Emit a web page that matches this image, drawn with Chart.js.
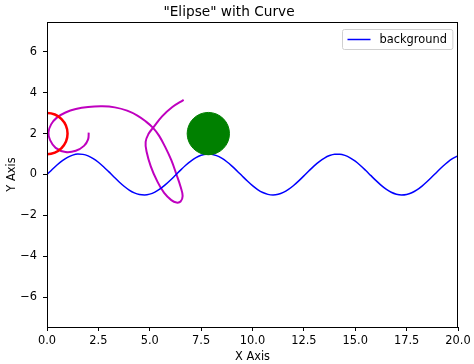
<!DOCTYPE html>
<html><head><meta charset="utf-8">
<script src="https://cdn.jsdelivr.net/npm/chart.js@4/dist/chart.umd.min.js"></script>
<style>html,body{margin:0;padding:0;background:#fff}#wrap{width:474px;height:364px}</style>
</head><body><div id="wrap"><canvas id="c" width="474" height="364"></canvas></div>
<script>
const titleText = '"Elipse" with Curve';
const xAxisTitle = 'X Axis';
const yAxisTitle = 'Y Axis';
const legendLabel = 'background';

const sineX = [0,0.25,0.5,0.75,1,1.25,1.5,1.75,2,2.25,2.5,2.75,3,3.25,3.5,3.75,4,4.25,4.5,4.75,5,5.25,5.5,5.75,6,6.25,6.5,6.75,7,7.25,7.5,7.75,8,8.25,8.5,8.75,9,9.25,9.5,9.75,10,10.25,10.5,10.75,11,11.25,11.5,11.75,12,12.25,12.5,12.75,13,13.25,13.5,13.75,14,14.25,14.5,14.75,15,15.25,15.5,15.75,16,16.25,16.5,16.75,17,17.25,17.5,17.75,18,18.25,18.5,18.75,19,19.25,19.5,19.75,20];
const sineY = [0,0.247,0.479,0.682,0.841,0.949,0.997,0.984,0.909,0.778,0.598,0.382,0.141,-0.108,-0.351,-0.572,-0.757,-0.895,-0.978,-0.999,-0.959,-0.859,-0.706,-0.508,-0.279,-0.033,0.215,0.450,0.657,0.823,0.938,0.995,0.989,0.922,0.798,0.625,0.412,0.174,-0.075,-0.319,-0.544,-0.735,-0.880,-0.970,-1.000,-0.968,-0.875,-0.729,-0.537,-0.311,-0.066,0.183,0.420,0.632,0.804,0.926,0.991,0.994,0.935,0.818,0.650,0.442,0.206,-0.042,-0.288,-0.516,-0.712,-0.864,-0.961,-1.000,-0.976,-0.891,-0.751,-0.564,-0.343,-0.099,0.150,0.390,0.606,0.784,0.913];

const curveX = [2.03,2.0,1.8,1.4,0.9,0.42,0.15,0.07,0.2,0.48,0.9,1.4,2.0,2.7,3.3,3.9,4.4,4.8,5.16,5.45,5.75,6.05,6.3,6.5,6.6,6.5,6.3,6.05,5.7,5.35,5.05,4.85,4.8,4.95,5.16,5.6,6.1,6.65];
const curveY = [2.05,1.72,1.4,1.16,1.1,1.3,1.68,2.05,2.45,2.78,3.03,3.2,3.3,3.33,3.28,3.12,2.88,2.6,2.28,1.9,1.35,0.7,0.0,-0.6,-1.05,-1.32,-1.37,-1.25,-0.9,-0.3,0.4,1.1,1.6,2.0,2.28,2.84,3.3,3.65];

const circleX = [0, 7.85];
const circleY = [2, 2];
const circleR = [1, 1.03];
const circleColors = ['#ff0000', '#008000'];
const circleFilled = [false, true];

const xTicks = [0,2.5,5,7.5,10,12.5,15,17.5,20];
const yTicks = [-6,-4,-2,0,2,4,6];

const FONT = '"DejaVu Sans", sans-serif';
const TICK_SIZE = 11.4;
Chart.defaults.color = '#000';
Chart.defaults.font.family = FONT;

// Circles drawn through the chart's x/y scales, right after the background line
const circlePlugin = {
  id: 'circles',
  afterDatasetDraw(chart, args) {
    if (args.index !== 0) return;
    const {ctx, chartArea: a, scales: {x, y}} = chart;
    ctx.save();
    ctx.beginPath();
    ctx.rect(a.left, a.top, a.right - a.left, a.bottom - a.top);
    ctx.clip();
    for (let i = 0; i < circleX.length; i++) {
      const cx = x.getPixelForValue(circleX[i]);
      const cy = y.getPixelForValue(circleY[i]);
      const r = Math.abs(x.getPixelForValue(circleR[i]) - x.getPixelForValue(0));
      ctx.beginPath();
      ctx.arc(cx, cy, r, 0, Math.PI * 2);
      if (circleFilled[i]) {
        ctx.fillStyle = circleColors[i];
        ctx.fill();
        ctx.lineWidth = 1;
        ctx.strokeStyle = circleColors[i];
        ctx.stroke();
      } else {
        ctx.lineWidth = 2.5;
        ctx.strokeStyle = circleColors[i];
        ctx.stroke();
      }
    }
    ctx.restore();
  }
};

const framePlugin = {
  id: 'frame',
  afterDatasetsDraw(chart) {
    const {ctx, chartArea: a} = chart;
    ctx.save();
    ctx.strokeStyle = '#000';
    ctx.lineWidth = 1;
    ctx.strokeRect(Math.round(a.left) + 0.5, Math.round(a.top) + 0.5, Math.round(a.right - a.left) - 1, Math.round(a.bottom - a.top));
    ctx.restore();
  }
};

const legendPlugin = {
  id: 'mplLegend',
  afterDraw(chart) {
    const {ctx, chartArea: a} = chart;
    ctx.save();
    ctx.font = TICK_SIZE + 'px ' + FONT;
    const tw = ctx.measureText(legendLabel).width;
    const w = 5 + 23 + 9 + tw + 6, h = 20;
    const x1 = Math.round(a.right - 6 - w) + 0.5, y1 = Math.round(a.top + 7) + 0.5;
    ctx.beginPath();
    ctx.roundRect(x1, y1, w, h, 2);
    ctx.fillStyle = 'rgba(255,255,255,0.8)';
    ctx.fill();
    ctx.strokeStyle = '#d0d0d0';
    ctx.lineWidth = 1;
    ctx.stroke();
    ctx.beginPath();
    ctx.moveTo(x1 + 5, y1 + h / 2);
    ctx.lineTo(x1 + 28, y1 + h / 2);
    ctx.strokeStyle = '#0000ff';
    ctx.lineWidth = 1.5;
    ctx.stroke();
    ctx.fillStyle = '#000';
    ctx.textBaseline = 'middle';
    ctx.textAlign = 'left';
    ctx.fillText(legendLabel, x1 + 37, y1 + h / 2 + 0.5);
    ctx.restore();
  }
};

new Chart(document.getElementById('c'), {
  type: 'scatter',
  data: {
    datasets: [
      {
        label: legendLabel,
        data: sineX.map((x, i) => ({x, y: sineY[i]})),
        showLine: true, borderColor: '#0000ff', borderWidth: 1.5,
        pointRadius: 0, cubicInterpolationMode: 'monotone'
      },
      {
        data: curveX.map((x, i) => ({x, y: curveY[i]})),
        showLine: true, borderColor: '#bf00bf', borderWidth: 2,
        pointRadius: 0, tension: 0.4
      }
    ]
  },
  options: {
    responsive: false,
    devicePixelRatio: 1,
    animation: false,
    events: [],
    layout: {padding: {left: 0, right: 16, top: 0, bottom: 0}},
    plugins: {
      legend: {display: false},
      tooltip: {enabled: false},
      title: {
        display: true, text: titleText, color: '#000',
        font: {family: FONT, size: 13.7, weight: 'normal'},
        padding: {top: 4, bottom: 1.6}
      }
    },
    scales: {
      x: {
        type: 'linear', min: 0, max: 20,
        afterBuildTicks: s => { s.ticks = xTicks.map(v => ({value: v})); },
        afterFit: s => { s.height = 37; },
        ticks: {
          font: {family: FONT, size: TICK_SIZE}, color: '#000', padding: 3, maxRotation: 0,
          callback: v => Number(v).toFixed(1)
        },
        grid: {drawOnChartArea: false, drawTicks: true, tickLength: 4, color: '#000', tickColor: '#000'},
        border: {display: false},
        title: {display: true, text: xAxisTitle, color: '#000', font: {family: FONT, size: TICK_SIZE}, padding: {top: 0, bottom: 0}}
      },
      y: {
        type: 'linear', min: -7.45, max: 7.45,
        afterBuildTicks: s => { s.ticks = yTicks.map(v => ({value: v})); },
        afterFit: s => { s.width = 47; },
        ticks: {
          font: {family: FONT, size: TICK_SIZE}, color: '#000', padding: 6,
          callback: v => (v < 0 ? '\u2212' + Math.abs(v) : String(v))
        },
        grid: {drawOnChartArea: false, drawTicks: true, tickLength: 4, color: '#000', tickColor: '#000'},
        border: {display: false},
        title: {display: true, text: yAxisTitle, color: '#000', font: {family: FONT, size: TICK_SIZE}, padding: {top: 5, bottom: 0}}
      }
    }
  },
  plugins: [circlePlugin, framePlugin, legendPlugin]
});
</script>
</body></html>
